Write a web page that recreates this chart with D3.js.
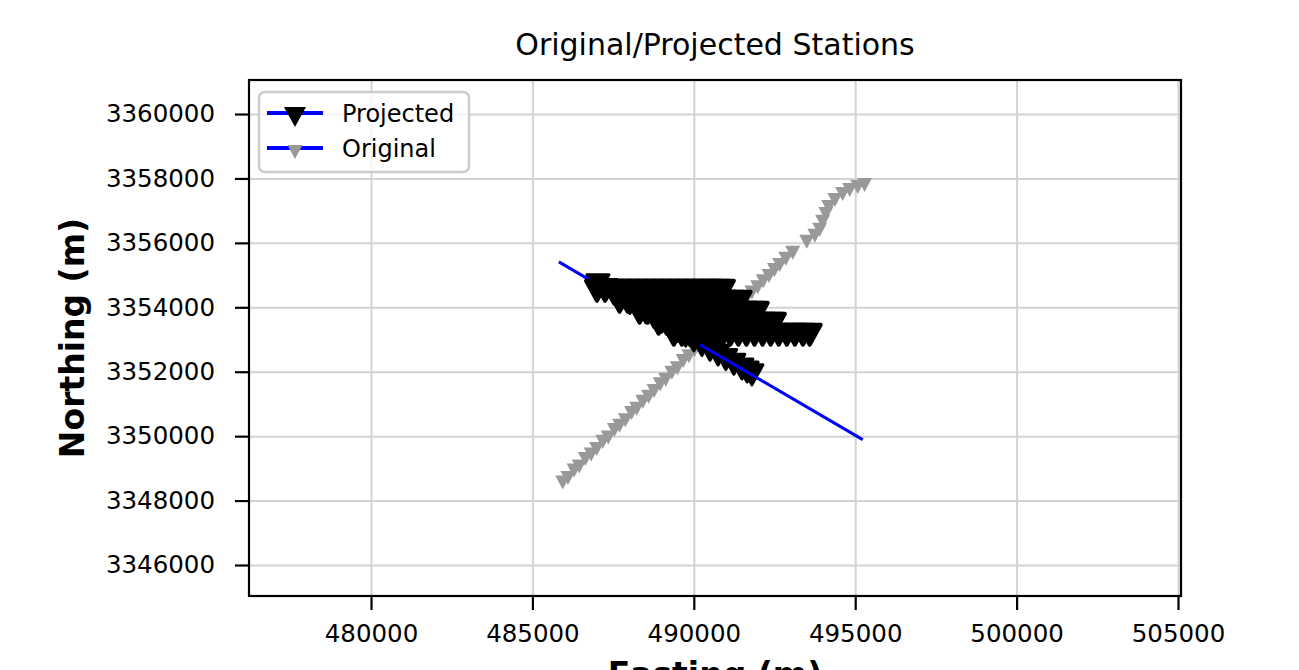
<!DOCTYPE html>
<html>
<head>
<meta charset="utf-8">
<script src="https://cdn.jsdelivr.net/npm/d3@7"></script>
<style>
  body { margin: 0; background: #fff; }
  text { font-family: "DejaVu Sans", sans-serif; }
</style>
</head>
<body>
<div id="vis"></div>
<script>
// declare constants
const FRAME_WIDTH = 1299;
const FRAME_HEIGHT = 670;
const MARGINS = {left: 249, right: 118, top: 80, bottom: 74};
const VIS_WIDTH = FRAME_WIDTH - MARGINS.left - MARGINS.right;
const VIS_HEIGHT = FRAME_HEIGHT - MARGINS.top - MARGINS.bottom;

// axis ticks
const xTicks = [480000, 485000, 490000, 495000, 500000, 505000];
const yTicks = [3346000, 3348000, 3350000, 3352000, 3354000, 3356000, 3358000, 3360000];

// original stations
const origEasting = [485940, 486100, 486290, 486450, 486640, 486820, 486990, 487180, 487350, 487540,
  487700, 487880, 488070, 488230, 488420, 488600, 488770, 488960, 489130, 489320,
  489490, 489670, 489850, 490020, 490210, 490380, 490560, 490740, 490910, 491100,
  491270, 491450, 491630, 491800, 491980, 492150, 492330, 492500, 492660, 492850,
  493065, 493500, 493750, 493900, 493990, 494090, 494180, 494370, 494610, 494830, 495080, 495290];
const origNorthing = [3348560, 3348700, 3348930, 3349060, 3349290, 3349430, 3349600, 3349830, 3349960, 3350190,
  3350320, 3350490, 3350720, 3350850, 3351070, 3351220, 3351400, 3351610, 3351750, 3351970,
  3352110, 3352330, 3352480, 3352670, 3352840, 3353040, 3353190, 3353400, 3353540, 3353760,
  3353900, 3354110, 3354270, 3354460, 3354620, 3354810, 3354970, 3355160, 3355310, 3355505,
  3355691, 3356032, 3356218, 3356404, 3356652, 3356900, 3357117, 3357334, 3357520, 3357644, 3357737, 3357799];

// profile line the stations were projected onto
const profileEasting = [485820, 495232];
const profileNorthing = [3355411, 3349891];

// projected stations lying on the profile
const projEasting = [487030, 487280, 487520, 487770, 488020, 488270, 488510, 488760, 489010, 489260,
  489500, 489750, 490000, 490250, 490500, 490750, 490990, 491240, 491490, 491650, 491800];
const projNorthing = [3354701, 3354555, 3354414, 3354267, 3354121, 3353974, 3353833, 3353687, 3353540, 3353393,
  3353253, 3353106, 3352959, 3352813, 3352666, 3352520, 3352379, 3352232, 3352086, 3351992, 3351904];

// projected stations above the profile
const clusterEasting = [
  487000, 487250, 487500, 487750, 488000, 488250, 488500, 488750, 489000, 489250, 489500, 489750, 490000, 490250, 490500, 490750, 490900,
  487700, 487950, 488200, 488450, 488700, 488950, 489200, 489450, 489700, 489950, 490200, 490450, 490700, 490950, 491200, 491420,
  488320, 488570, 488820, 489070, 489320, 489570, 489820, 490070, 490320, 490570, 490820, 491070, 491320, 491570, 491820, 491950,
  488910, 489160, 489410, 489660, 489910, 490160, 490410, 490660, 490910, 491160, 491410, 491660, 491910, 492160, 492410, 492480,
  489380, 489630, 489880, 490130, 490380, 490630, 490880, 491130, 491380, 491630, 491880, 492130, 492380, 492630, 492880, 493130, 493380, 493590];
const clusterNorthing = [
  3354510, 3354510, 3354510, 3354510, 3354510, 3354510, 3354510, 3354510, 3354510, 3354510, 3354510, 3354510, 3354510, 3354510, 3354510, 3354510, 3354510,
  3354170, 3354170, 3354170, 3354170, 3354170, 3354170, 3354170, 3354170, 3354170, 3354170, 3354170, 3354170, 3354170, 3354170, 3354170, 3354170,
  3353830, 3353830, 3353830, 3353830, 3353830, 3353830, 3353830, 3353830, 3353830, 3353830, 3353830, 3353830, 3353830, 3353830, 3353830, 3353830,
  3353490, 3353490, 3353490, 3353490, 3353490, 3353490, 3353490, 3353490, 3353490, 3353490, 3353490, 3353490, 3353490, 3353490, 3353490, 3353490,
  3353150, 3353150, 3353150, 3353150, 3353150, 3353150, 3353150, 3353150, 3353150, 3353150, 3353150, 3353150, 3353150, 3353150, 3353150, 3353150, 3353150, 3353150];

const FRAME = d3.select("#vis")
  .append("svg")
    .attr("width", FRAME_WIDTH)
    .attr("height", FRAME_HEIGHT);

const x = d3.scaleLinear().domain([476220, 505093]).range([MARGINS.left, MARGINS.left + VIS_WIDTH]);
const y = d3.scaleLinear().domain([3345038, 3361056]).range([MARGINS.top + VIS_HEIGHT, MARGINS.top]);

// downward triangle marker
function tri(w, h) {
  return "M" + (-w / 2) + "," + (-h / 2) + "L" + (w / 2) + "," + (-h / 2) + "L0," + (h / 2) + "Z";
}

// grid
FRAME.append("g")
  .attr("transform", "translate(0," + (MARGINS.top + VIS_HEIGHT) + ")")
  .call(d3.axisBottom(x).tickValues(xTicks).tickSize(-VIS_HEIGHT).tickFormat(""))
  .call(g => g.select(".domain").remove())
  .selectAll("line").attr("stroke", "#d3d3d3").attr("stroke-width", 2);
FRAME.append("g")
  .attr("transform", "translate(" + MARGINS.left + ",0)")
  .call(d3.axisLeft(y).tickValues(yTicks).tickSize(-VIS_WIDTH).tickFormat(""))
  .call(g => g.select(".domain").remove())
  .selectAll("line").attr("stroke", "#d3d3d3").attr("stroke-width", 2);

const plot = FRAME.append("g");

// original stations
plot.selectAll(".orig")
  .data(origEasting)
  .enter()
  .append("path")
    .attr("d", tri(15, 14))
    .attr("transform", (d, i) => "translate(" + x(d) + "," + y(origNorthing[i]) + ")")
    .attr("fill", "#999999");

// projected stations on the profile
plot.selectAll(".proj")
  .data(projEasting)
  .enter()
  .append("path")
    .attr("d", tri(22, 20))
    .attr("transform", (d, i) => "translate(" + x(d) + "," + y(projNorthing[i]) + ")")
    .attr("fill", "#000")
    .attr("stroke", "#000")
    .attr("stroke-width", 3)
    .attr("stroke-linejoin", "round");

// profile line
plot.append("path")
  .datum(profileEasting)
  .attr("d", d3.line().x(d => x(d)).y((d, i) => y(profileNorthing[i])))
  .attr("fill", "none")
  .attr("stroke", "#0000ff")
  .attr("stroke-width", 3);

// projected stations above
plot.selectAll(".clus")
  .data(clusterEasting)
  .enter()
  .append("path")
    .attr("d", tri(22, 20))
    .attr("transform", (d, i) => "translate(" + x(d) + "," + y(clusterNorthing[i]) + ")")
    .attr("fill", "#000")
    .attr("stroke", "#000")
    .attr("stroke-width", 4)
    .attr("stroke-linejoin", "round");

// axes
const xAxis = FRAME.append("g")
  .attr("transform", "translate(0," + (MARGINS.top + VIS_HEIGHT) + ")")
  .call(d3.axisBottom(x).tickValues(xTicks).tickSize(14).tickPadding(15).tickFormat(d3.format("d")));
const yAxis = FRAME.append("g")
  .attr("transform", "translate(" + MARGINS.left + ",0)")
  .call(d3.axisLeft(y).tickValues(yTicks).tickSize(14).tickPadding(20).tickFormat(d3.format("d")));
[xAxis, yAxis].forEach(g => {
  g.select(".domain").remove();
  g.selectAll("line").attr("stroke", "#000").attr("stroke-width", 2.2);
  g.selectAll("text").attr("font-size", 24.5).attr("fill", "#000").attr("font-family", "DejaVu Sans");
});

// frame
FRAME.append("rect")
  .attr("x", MARGINS.left).attr("y", MARGINS.top)
  .attr("width", VIS_WIDTH).attr("height", VIS_HEIGHT)
  .attr("fill", "none").attr("stroke", "#000").attr("stroke-width", 2.2);

// title and labels
FRAME.append("text")
  .attr("x", MARGINS.left + VIS_WIDTH / 2).attr("y", 55)
  .attr("text-anchor", "middle").attr("font-size", 30)
  .text("Original/Projected Stations");
FRAME.append("text")
  .attr("transform", "translate(84," + (MARGINS.top + VIS_HEIGHT / 2) + ")rotate(-90)")
  .attr("text-anchor", "middle").attr("font-size", 33).attr("font-weight", "bold")
  .text("Northing (m)");
FRAME.append("text")
  .attr("x", MARGINS.left + VIS_WIDTH / 2).attr("y", 686)
  .attr("text-anchor", "middle").attr("font-size", 33).attr("font-weight", "bold")
  .text("Easting (m)");

// legend
const legend = FRAME.append("g");
legend.append("rect")
  .attr("x", 259).attr("y", 92).attr("width", 210).attr("height", 80).attr("rx", 6)
  .attr("fill", "#fff").attr("fill-opacity", 0.8)
  .attr("stroke", "#cccccc").attr("stroke-width", 2.5);
const legendItems = [
  {label: "Projected", color: "#000", w: 22, h: 20},
  {label: "Original", color: "#999999", w: 15, h: 14}
];
legendItems.forEach((d, i) => {
  const ly = 113 + i * 35;
  legend.append("line")
    .attr("x1", 267).attr("x2", 323).attr("y1", ly).attr("y2", ly)
    .attr("stroke", "#0000ff").attr("stroke-width", 4);
  legend.append("path")
    .attr("d", tri(d.w, d.h))
    .attr("transform", "translate(295," + (ly + 4) + ")")
    .attr("fill", d.color);
  legend.append("text")
    .attr("x", 342).attr("y", ly + 9)
    .attr("font-size", 24)
    .text(d.label);
});
</script>
</body>
</html>
